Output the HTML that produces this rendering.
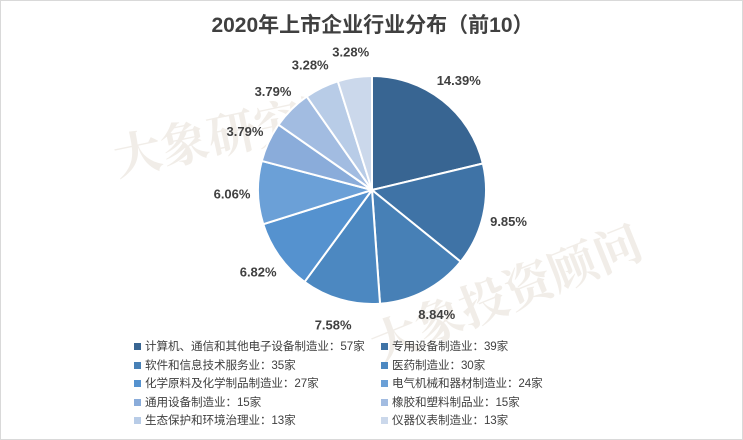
<!DOCTYPE html>
<html><head><meta charset="utf-8"><style>
body{margin:0;background:#fff;}
#c{position:relative;width:743px;height:440px;overflow:hidden;border:1px solid #d9d9d9;box-sizing:border-box;font-family:"Liberation Sans","Noto Sans CJK SC",sans-serif;}
.t{position:absolute;left:0;width:743px;top:8px;text-align:center;font-size:21px;font-weight:bold;color:#404040;}
.wm{position:absolute;color:rgba(200,185,165,0.25);font-family:"Noto Serif CJK SC",serif;font-weight:bold;font-size:48px;white-space:nowrap;}
.lg{position:absolute;font-size:11.6px;color:#404040;white-space:nowrap;letter-spacing:-0.1px;}
.lg i{display:inline-block;width:7px;height:7px;margin-right:4px;}
</style></head><body>
<div id="c">
<div class="wm" style="left:110px;top:95px;transform:rotate(-12deg)">大象研究院</div>
<div class="wm" style="left:360px;top:255px;transform:rotate(-22deg)">大象投资顾问</div>
<div class="t">2020年上市企业行业分布（前10）</div>
<svg id="pie" width="743" height="440" style="position:absolute;left:0;top:0"></svg>
<div id="legend"></div>
</div>
<script>
const categories=["计算机、通信和其他电子设备制造业","专用设备制造业","软件和信息技术服务业","医药制造业","化学原料及化学制品制造业","电气机械和器材制造业","通用设备制造业","橡胶和塑料制品业","生态保护和环境治理业","仪器仪表制造业"];
const values=[57,39,35,30,27,24,15,15,13,13];
const pctLabels=["14.39%","9.85%","8.84%","7.58%","6.82%","6.06%","3.79%","3.79%","3.28%","3.28%"];
const colors=["#386592","#3f73a6","#4780b6","#4c88c1","#5592cf","#6ba0d7","#8aacda","#a2bce1","#b8cce7","#cbd8eb"];
const cx=371,cy=189,R=114,LR=140;
const svg=document.getElementById('pie');
const NS="http://www.w3.org/2000/svg";
const total=values.reduce((a,b)=>a+b,0);
let a0=0;
values.forEach((v,i)=>{
  const a1=a0+v/total*Math.PI*2;
  const x0=cx+R*Math.sin(a0),y0=cy-R*Math.cos(a0),x1=cx+R*Math.sin(a1),y1=cy-R*Math.cos(a1);
  const p=document.createElementNS(NS,'path');
  p.setAttribute('d',`M${cx},${cy}L${x0},${y0}A${R},${R} 0 ${a1-a0>Math.PI?1:0} 1 ${x1},${y1}Z`);
  p.setAttribute('fill',colors[i]);p.setAttribute('stroke','#fff');p.setAttribute('stroke-width','2');
  
  
  svg.appendChild(p);
  const m=(a0+a1)/2;
  const t=document.createElementNS(NS,'text');
  t.setAttribute('x',cx+LR*Math.sin(m));t.setAttribute('y',cy-LR*Math.cos(m)+5);
  t.setAttribute('text-anchor','middle');t.setAttribute('font-size','13');t.setAttribute('font-weight','bold');
  t.setAttribute('fill','#404040');t.setAttribute('font-family','Liberation Sans, sans-serif');
  t.textContent=pctLabels[i];
  
  
  svg.appendChild(t);
  a0=a1;
});
const lg=document.getElementById('legend');
categories.forEach((c,i)=>{
  const d=document.createElement('div');d.className='lg';
  d.style.left=(i%2?380:133)+'px';d.style.top=(337+Math.floor(i/2)*18.5)+'px';
  d.innerHTML=`<i style="background:${colors[i]}"></i>${c}：${values[i]}家`;
  
  
  lg.appendChild(d);
});
</script>
</body></html>
